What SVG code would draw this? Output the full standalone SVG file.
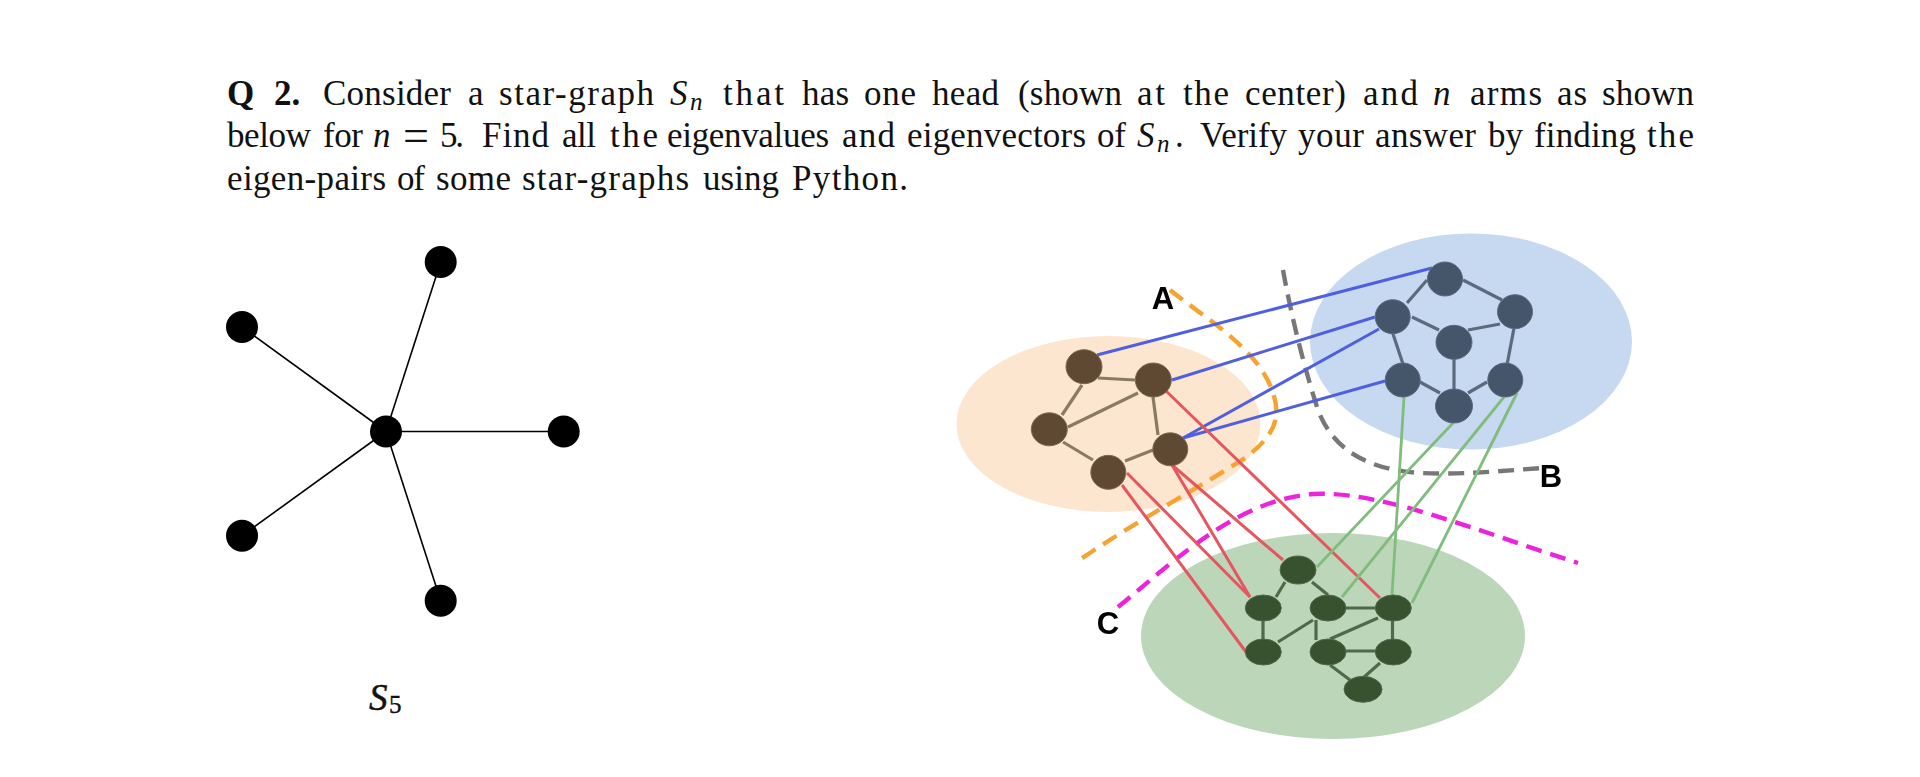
<svg xmlns="http://www.w3.org/2000/svg" width="1920" height="777" viewBox="0 0 1920 777">
<style>
text{font-family:"Liberation Serif","Times New Roman",serif;fill:#111}
.t{font-size:35px}
.i{font-style:italic}
.b{font-weight:bold}
.sub{font-size:25px}
.lab{font-family:"Liberation Sans",Arial,sans-serif;font-weight:bold;font-size:31px;fill:#000;text-anchor:middle}
.star{fill:#000}
.arm{stroke:#000;stroke-width:1.6;fill:none}
.e{stroke-width:3.2;fill:none}
.eo{stroke:#8b7a63}.eb{stroke:#5d6a7e}.eg{stroke:#4e6a49}
.lb{stroke:#4f5fe0;stroke-width:3}
.lr{stroke:#e5565f;stroke-width:3}
.lg{stroke:#80bd7c;stroke-width:2.8}
.d{fill:none;stroke-width:4.4;stroke-dasharray:16 9}
.no{fill:#5f4a33;stroke:#7a6a52;stroke-width:1}
.nb{fill:#44546b;stroke:#5d6a7e;stroke-width:1}
.ng{fill:#37512f;stroke:#4e6a49;stroke-width:1}
</style>
<defs><filter id="soft" x="-5%" y="-5%" width="110%" height="110%"><feGaussianBlur stdDeviation="0.7"/></filter></defs>
<rect width="1920" height="777" fill="#fff"/>
<g id="question" class="t">
<text y="105"><tspan class="b" x="227">Q</tspan><tspan class="b" x="274">2.</tspan><tspan x="323" textLength="128">Consider</tspan><tspan x="468">a</tspan><tspan x="499" textLength="155">star-graph</tspan><tspan class="i" x="670">S</tspan><tspan class="i sub" x="690" dy="5">n</tspan><tspan x="723" dy="-5" textLength="61">that</tspan><tspan x="802" textLength="47">has</tspan><tspan x="864" textLength="52">one</tspan><tspan x="932" textLength="67">head</tspan><tspan x="1018" textLength="104">(shown</tspan><tspan x="1137" textLength="28">at</tspan><tspan x="1183" textLength="46">the</tspan><tspan x="1245" textLength="101">center)</tspan><tspan x="1363" textLength="55">and</tspan><tspan class="i" x="1433">n</tspan><tspan x="1470" textLength="72">arms</tspan><tspan x="1557" textLength="30">as</tspan><tspan x="1602" textLength="92">shown</tspan></text>
<text y="147"><tspan x="227" textLength="84">below</tspan><tspan x="323" textLength="40">for</tspan><tspan class="i" x="373">n</tspan><tspan x="403" font-size="46" dy="4">=</tspan><tspan x="440" dy="-4" textLength="24">5.</tspan><tspan x="482" textLength="67">Find</tspan><tspan x="562" textLength="34">all</tspan><tspan x="610" textLength="48">the</tspan><tspan x="667" textLength="162">eigenvalues</tspan><tspan x="842" textLength="53">and</tspan><tspan x="907" textLength="179">eigenvectors</tspan><tspan x="1097" textLength="29">of</tspan><tspan class="i" x="1137">S</tspan><tspan class="i sub" x="1157" dy="5">n</tspan><tspan x="1175" dy="-5">.</tspan><tspan x="1200" textLength="87">Verify</tspan><tspan x="1298" textLength="66">your</tspan><tspan x="1375" textLength="101">answer</tspan><tspan x="1488" textLength="35">by</tspan><tspan x="1534" textLength="102">finding</tspan><tspan x="1647" textLength="47">the</tspan></text>
<text y="190"><tspan x="227" textLength="159">eigen-pairs</tspan><tspan x="397" textLength="28">of</tspan><tspan x="436" textLength="75">some</tspan><tspan x="522" textLength="167">star-graphs</tspan><tspan x="703" textLength="76">using</tspan><tspan x="792" textLength="116">Python.</tspan></text>
</g>
<g id="star-connectors">
<line class="arm" x1="386" y1="431.5" x2="440.7" y2="262"/>
<line class="arm" x1="386" y1="431.5" x2="242" y2="327"/>
<line class="arm" x1="386" y1="431.5" x2="563.7" y2="431.5"/>
<line class="arm" x1="386" y1="431.5" x2="242" y2="535.7"/>
<line class="arm" x1="386" y1="431.5" x2="440.7" y2="600.7"/>
</g>
<g id="star-head"><circle class="star" cx="386" cy="431.5" r="16"/></g>
<g id="star-arm1"><circle class="star" cx="440.7" cy="262" r="16"/></g>
<g id="star-arm2"><circle class="star" cx="242" cy="327" r="16"/></g>
<g id="star-arm3"><circle class="star" cx="563.7" cy="431.5" r="16"/></g>
<g id="star-arm4"><circle class="star" cx="242" cy="535.7" r="16"/></g>
<g id="star-arm5"><circle class="star" cx="440.7" cy="600.7" r="16"/></g>
<text id="s5" y="710"><tspan class="i" x="369" font-size="37" stroke="#111" stroke-width="0.5">S</tspan><tspan class="sub" x="389" dy="3" stroke="#111" stroke-width="0.4">5</tspan></text>
<g id="clusters" filter="url(#soft)">
<ellipse cx="1108.5" cy="424" rx="152" ry="88" fill="#fde6cf"/>
<ellipse cx="1471" cy="341.5" rx="161" ry="108" fill="#c6d9f0"/>
<ellipse cx="1333" cy="636" rx="192" ry="103" fill="#bcd6b9"/>
<g id="connectors">
<path class="d" stroke="#f7a333" d="M1170,290 C1205,318 1252,345 1270,385 C1285,420 1272,437 1245,458 C1200,487 1130,525 1078,561"/>
<path class="d" stroke="#777777" d="M1283,270 C1292,320 1305,370 1318,410 C1335,455 1375,470 1420,473 C1470,475 1510,470 1542,468"/>
<path class="d" stroke="#ee22dd" d="M1118,607 C1170,565 1235,500 1313,494 C1380,490 1480,532 1578,563"/>
<line class="lb" x1="1097" y1="355" x2="1432" y2="268"/>
<line class="lb" x1="1172" y1="380" x2="1375" y2="317"/>
<line class="lb" x1="1183" y1="438" x2="1379" y2="329"/>
<line class="lb" x1="1183" y1="438" x2="1385" y2="381"/>
<line class="lr" x1="1166" y1="391" x2="1380" y2="598"/>
<line class="lr" x1="1172" y1="465" x2="1283" y2="560"/>
<line class="lr" x1="1172" y1="465" x2="1250" y2="597"/>
<line class="lr" x1="1127" y1="473" x2="1250" y2="597"/>
<line class="lr" x1="1122" y1="485" x2="1246" y2="652"/>
<line class="lg" x1="1404" y1="397" x2="1392" y2="595"/>
<line class="lg" x1="1453" y1="423" x2="1317" y2="567"/>
<line class="lg" x1="1504" y1="397" x2="1342" y2="597"/>
<line class="lg" x1="1517" y1="393" x2="1412" y2="603"/>
<line class="e eo" x1="1098" y1="378" x2="1135" y2="380"/>
<line class="e eo" x1="1082" y1="385" x2="1062" y2="415"/>
<line class="e eo" x1="1138" y1="393" x2="1068" y2="427"/>
<line class="e eo" x1="1153" y1="397" x2="1158" y2="435"/>
<line class="e eo" x1="1063" y1="442" x2="1093" y2="460"/>
<line class="e eo" x1="1125" y1="461" x2="1153" y2="450"/>
<line class="e eb" x1="1427" y1="280" x2="1407" y2="303"/>
<line class="e eb" x1="1463" y1="280" x2="1502" y2="300"/>
<line class="e eb" x1="1412" y1="317" x2="1439" y2="330"/>
<line class="e eb" x1="1468" y1="330" x2="1500" y2="324"/>
<line class="e eb" x1="1392.7" y1="333" x2="1403.3" y2="365"/>
<line class="e eb" x1="1514" y1="328" x2="1507" y2="365"/>
<line class="e eb" x1="1454" y1="358" x2="1454" y2="392"/>
<line class="e eb" x1="1420" y1="382" x2="1440" y2="393"/>
<line class="e eb" x1="1487" y1="382" x2="1468" y2="393"/>
<line class="e eg" x1="1285" y1="582" x2="1276" y2="597"/>
<line class="e eg" x1="1312" y1="582" x2="1328" y2="595"/>
<line class="e eg" x1="1263" y1="620" x2="1263" y2="640"/>
<line class="e eg" x1="1313" y1="620" x2="1278" y2="642"/>
<line class="e eg" x1="1344" y1="608" x2="1377" y2="608" stroke-width="4.5"/>
<line class="e eg" x1="1316" y1="620" x2="1316" y2="640"/>
<line class="e eg" x1="1378" y1="618" x2="1330" y2="639"/>
<line class="e eg" x1="1392.5" y1="620" x2="1392.5" y2="640"/>
<line class="e eg" x1="1344" y1="651" x2="1377" y2="651"/>
<line class="e eg" x1="1330" y1="665" x2="1350" y2="680"/>
<line class="e eg" x1="1380" y1="663" x2="1363" y2="678"/>
</g>
<g id="a1"><ellipse class="no" cx="1084" cy="366.7" rx="18" ry="17"/></g>
<g id="a2"><ellipse class="no" cx="1153.3" cy="380" rx="18" ry="17"/></g>
<g id="a3"><ellipse class="no" cx="1049.3" cy="429.3" rx="18" ry="16.5"/></g>
<g id="a4"><ellipse class="no" cx="1170.3" cy="449.3" rx="17.5" ry="16.5"/></g>
<g id="a5"><ellipse class="no" cx="1108.3" cy="472.3" rx="17.5" ry="17"/></g>
<g id="b1"><ellipse class="nb" cx="1445" cy="279" rx="17.5" ry="17"/></g>
<g id="b2"><ellipse class="nb" cx="1392.7" cy="316.7" rx="17.5" ry="17"/></g>
<g id="b3"><ellipse class="nb" cx="1515" cy="311.7" rx="17.5" ry="17"/></g>
<g id="b4"><ellipse class="nb" cx="1454" cy="342.3" rx="18" ry="17"/></g>
<g id="b5"><ellipse class="nb" cx="1402.7" cy="380" rx="17.5" ry="17"/></g>
<g id="b6"><ellipse class="nb" cx="1505.3" cy="380" rx="17.5" ry="17"/></g>
<g id="b7"><ellipse class="nb" cx="1454" cy="406" rx="18.5" ry="17"/></g>
<g id="c1"><ellipse class="ng" cx="1298" cy="570" rx="18" ry="14"/></g>
<g id="c2"><ellipse class="ng" cx="1263.3" cy="608" rx="18" ry="13"/></g>
<g id="c3"><ellipse class="ng" cx="1328" cy="608" rx="18" ry="13"/></g>
<g id="c4"><ellipse class="ng" cx="1393.3" cy="608" rx="18" ry="13"/></g>
<g id="c5"><ellipse class="ng" cx="1263.3" cy="652" rx="18" ry="13"/></g>
<g id="c6"><ellipse class="ng" cx="1328" cy="652" rx="18" ry="13"/></g>
<g id="c7"><ellipse class="ng" cx="1393.3" cy="652" rx="18" ry="13"/></g>
<g id="c8"><ellipse class="ng" cx="1363" cy="689.3" rx="19" ry="13"/></g>
<text class="lab" x="1163" y="309">A</text>
<text class="lab" x="1551" y="487">B</text>
<text class="lab" x="1108" y="634">C</text>
</g>
</svg>
